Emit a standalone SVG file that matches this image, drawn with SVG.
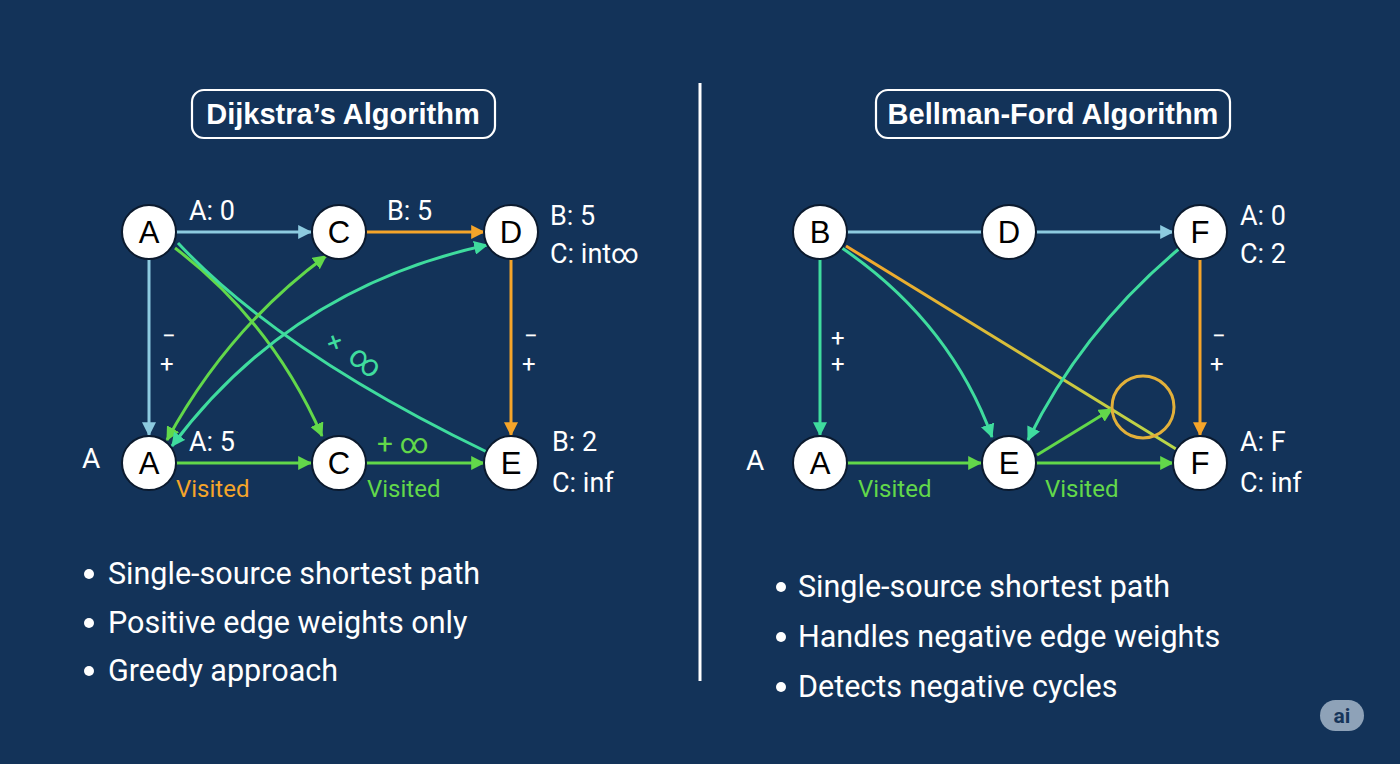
<svg xmlns="http://www.w3.org/2000/svg" width="1400" height="764" viewBox="0 0 1400 764">
<defs>
<style>
.bg{fill:#133359}
.node circle{fill:#ffffff;stroke:#0b1a2e;stroke-width:2}
.node text{font-family:"Liberation Sans",Arial,sans-serif;font-size:31px;fill:#000;text-anchor:middle}
.lbl{font-family:Roboto,"Liberation Sans",sans-serif;font-size:27px;fill:#ffffff}
.sgn{font-family:Roboto,"Liberation Sans",sans-serif;font-size:24px;fill:#ffffff}
.bul{font-family:Roboto,"Liberation Sans",sans-serif;font-size:30.5px;fill:#ffffff}
.title{font-family:"Liberation Sans",Arial,sans-serif;font-size:29px;font-weight:bold;fill:#ffffff;text-anchor:middle}
.tbox{fill:none;stroke:#ffffff;stroke-width:2.2}
.e{fill:none;stroke-width:3}
.blue{stroke:#8dcbe0}
.orange{stroke:#f5a52a}
.green{stroke:#62d84a}
.teal{stroke:#3fdc9e}
</style>
<marker id="ab" viewBox="0 0 12 12" refX="11" refY="6" markerWidth="14" markerHeight="14" markerUnits="userSpaceOnUse" orient="auto-start-reverse"><path d="M0,0 L12,6 L0,12 Z" fill="#8dcbe0"/></marker>
<marker id="ao" viewBox="0 0 12 12" refX="11" refY="6" markerWidth="14" markerHeight="14" markerUnits="userSpaceOnUse" orient="auto-start-reverse"><path d="M0,0 L12,6 L0,12 Z" fill="#f5a52a"/></marker>
<marker id="ag" viewBox="0 0 12 12" refX="11" refY="6" markerWidth="14" markerHeight="14" markerUnits="userSpaceOnUse" orient="auto-start-reverse"><path d="M0,0 L12,6 L0,12 Z" fill="#62d84a"/></marker>
<marker id="at" viewBox="0 0 12 12" refX="11" refY="6" markerWidth="14" markerHeight="14" markerUnits="userSpaceOnUse" orient="auto-start-reverse"><path d="M0,0 L12,6 L0,12 Z" fill="#3fdc9e"/></marker>
<linearGradient id="oy" gradientUnits="userSpaceOnUse" x1="846" y1="246" x2="1176" y2="449">
<stop offset="0" stop-color="#f5a52a"/><stop offset="1" stop-color="#b8d84a"/>
</linearGradient>
</defs>
<rect class="bg" x="0" y="0" width="1400" height="764"/>
<line x1="700" y1="83" x2="700" y2="681" stroke="#ffffff" stroke-width="3"/>

<g id="title-dijkstra">
<rect class="tbox" x="192" y="90" width="303" height="48" rx="12"/>
<text class="title" x="343" y="124">Dijkstra’s Algorithm</text>
</g>
<g id="title-bellman">
<rect class="tbox" x="876" y="90" width="354" height="48" rx="12"/>
<text class="title" x="1053" y="124">Bellman-Ford Algorithm</text>
</g>

<g id="connectors">
<!-- Dijkstra -->
<line class="e blue" x1="176" y1="232" x2="311" y2="232" marker-end="url(#ab)"/>
<line class="e orange" x1="366" y1="232" x2="484" y2="232" marker-end="url(#ao)"/>
<line class="e blue" x1="149" y1="259" x2="149" y2="435" marker-end="url(#ab)"/>
<line class="e orange" x1="511" y1="259" x2="511" y2="435" marker-end="url(#ao)"/>
<line class="e green" x1="176" y1="463" x2="311" y2="463" marker-end="url(#ag)"/>
<line class="e green" x1="366" y1="463" x2="484" y2="463" marker-end="url(#ag)"/>
<path class="e green" d="M175,248 Q272,322 322,436" marker-end="url(#ag)"/>
<path class="e teal" d="M178,243 Q280,352 487,452"/>
<path class="e green" d="M167,440 Q228,328 326,256" marker-start="url(#ag)" marker-end="url(#ag)"/>
<path class="e teal" d="M172,446 Q290,288 487,245" marker-start="url(#at)" marker-end="url(#at)"/>
<!-- Bellman-Ford -->
<line class="e blue" x1="847" y1="232" x2="982" y2="232"/>
<line class="e blue" x1="1036" y1="232" x2="1173" y2="232" marker-end="url(#ab)"/>
<line class="e teal" x1="820" y1="259" x2="820" y2="435" marker-end="url(#at)"/>
<path class="e teal" d="M842,248 Q950,322 992,437" marker-end="url(#at)"/>
<line class="e" stroke="url(#oy)" x1="846" y1="246" x2="1176" y2="449"/>
<path class="e teal" d="M1180,248 Q1082,330 1028,440" marker-end="url(#at)"/>
<line class="e orange" x1="1200" y1="259" x2="1200" y2="435" marker-end="url(#ao)"/>
<line class="e green" x1="847" y1="463" x2="981" y2="463" marker-end="url(#ag)"/>
<line class="e green" x1="1036" y1="463" x2="1173" y2="463" marker-end="url(#ag)"/>
<line class="e green" x1="1037" y1="455" x2="1112" y2="409" marker-end="url(#ag)"/>
<circle cx="1143" cy="407" r="31" fill="none" stroke="#e2b03a" stroke-width="3"/>
</g>

<g id="d-A1" class="node"><circle cx="149" cy="232" r="27"/><text x="149" y="243">A</text></g>
<g id="d-C1" class="node"><circle cx="339" cy="232" r="27"/><text x="339" y="243">C</text></g>
<g id="d-D" class="node"><circle cx="511" cy="232" r="27"/><text x="511" y="243">D</text></g>
<g id="d-A2" class="node"><circle cx="149" cy="463" r="27"/><text x="149" y="474">A</text></g>
<g id="d-C2" class="node"><circle cx="339" cy="463" r="27"/><text x="339" y="474">C</text></g>
<g id="d-E" class="node"><circle cx="511" cy="463" r="27"/><text x="511" y="474">E</text></g>

<g id="b-B" class="node"><circle cx="820" cy="232" r="27"/><text x="820" y="243">B</text></g>
<g id="b-D" class="node"><circle cx="1009" cy="232" r="27"/><text x="1009" y="243">D</text></g>
<g id="b-F1" class="node"><circle cx="1200" cy="232" r="27"/><text x="1200" y="243">F</text></g>
<g id="b-A" class="node"><circle cx="820" cy="463" r="27"/><text x="820" y="474">A</text></g>
<g id="b-E" class="node"><circle cx="1009" cy="463" r="27"/><text x="1009" y="474">E</text></g>
<g id="b-F2" class="node"><circle cx="1200" cy="463" r="27"/><text x="1200" y="474">F</text></g>

<g id="labels">
<text class="lbl" x="189" y="220">A: 0</text>
<text class="lbl" x="387" y="220">B: 5</text>
<text class="lbl" x="550" y="225">B: 5</text>
<text class="lbl" x="550" y="263">C: int∞</text>
<text class="sgn" x="162" y="344">−</text>
<text class="sgn" x="160" y="372">+</text>
<text class="sgn" x="524" y="344">−</text>
<text class="sgn" x="522" y="372">+</text>
<text class="lbl" x="327" y="351" style="fill:#3fdc9e" transform="rotate(-20 335 342)">+</text>
<text class="lbl" x="349" y="371" style="fill:#3fdc9e;font-size:32px" transform="rotate(38 364 361)">∞</text>
<text class="lbl" x="82" y="468" style="font-size:28px">A</text>
<text class="lbl" x="189" y="451">A: 5</text>
<text class="lbl" x="176" y="497" style="fill:#f5a52a;font-size:24px">Visited</text>
<text class="lbl" x="377" y="453" style="fill:#62d84a;font-size:28px">+ ∞</text>
<text class="lbl" x="367" y="497" style="fill:#62d84a;font-size:24px">Visited</text>
<text class="lbl" x="552" y="451">B: 2</text>
<text class="lbl" x="552" y="492">C: inf</text>

<text class="lbl" x="1240" y="225">A: 0</text>
<text class="lbl" x="1240" y="263">C: 2</text>
<text class="sgn" x="831" y="346">+</text>
<text class="sgn" x="831" y="372">+</text>
<text class="sgn" x="1212" y="344">−</text>
<text class="sgn" x="1210" y="372">+</text>
<text class="lbl" x="746" y="470" style="font-size:28px">A</text>
<text class="lbl" x="858" y="497" style="fill:#62d84a;font-size:24px">Visited</text>
<text class="lbl" x="1045" y="497" style="fill:#62d84a;font-size:24px">Visited</text>
<text class="lbl" x="1240" y="451">A: F</text>
<text class="lbl" x="1240" y="492">C: inf</text>
</g>

<g id="bullets-left">
<circle cx="89" cy="574" r="5" fill="#fff"/><text class="bul" x="108" y="584">Single-source shortest path</text>
<circle cx="89" cy="623" r="5" fill="#fff"/><text class="bul" x="108" y="633">Positive edge weights only</text>
<circle cx="89" cy="671" r="5" fill="#fff"/><text class="bul" x="108" y="681">Greedy approach</text>
</g>
<g id="bullets-right">
<circle cx="781" cy="587" r="5" fill="#fff"/><text class="bul" x="798" y="597">Single-source shortest path</text>
<circle cx="781" cy="637" r="5" fill="#fff"/><text class="bul" x="798" y="647">Handles negative edge weights</text>
<circle cx="781" cy="687" r="5" fill="#fff"/><text class="bul" x="798" y="697">Detects negative cycles</text>
</g>

<g id="ai-badge">
<rect x="1320" y="700" width="44" height="31" rx="15.5" fill="#8ea2b8"/>
<text x="1342" y="723" text-anchor="middle" font-family="Roboto,'Liberation Sans',sans-serif" font-weight="bold" font-size="21" fill="#16355a">ai</text>
</g>
</svg>
